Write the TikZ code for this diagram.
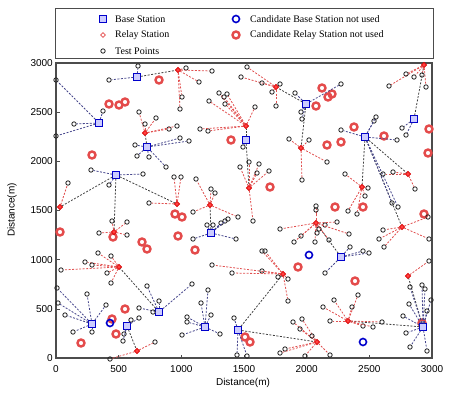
\documentclass[tikz,border=0pt]{standalone}
\usepackage{fontspec}
\setmainfont{Liberation Serif}
\setsansfont{Liberation Sans}
\usetikzlibrary{shapes.geometric}
\definecolor{bslink}{RGB}{70,70,140}
\definecolor{rslink}{RGB}{225,80,80}
\definecolor{candred}{RGB}{228,75,75}
\newcommand{\tpoints}[3]{%
  \foreach \x/\y [count=\i] in {#3} {\node[tp] (#2t\i) at (\x,\y) {}; \draw[#1] (#2) -- (#2t\i);}}
\begin{document}
\begin{tikzpicture}[x=1pt,y=-1pt,
  every node/.style={inner sep=0pt},
  tp/.style={circle,draw=black!85,line width=0.8pt,minimum size=4.4pt},
  bs/.style={rectangle,draw=blue!80!black,fill=blue!20,line width=1pt,minimum size=6.5pt},
  rs/.style={diamond,draw=red!85!black,fill=red!75,line width=0.6pt,minimum size=5.5pt},
  cbs/.style={circle,draw=blue!80!black,line width=1.6pt,minimum size=7pt},
  crs/.style={circle,draw=candred,line width=2.4pt,minimum size=7pt},
  lb/.style={bslink,line width=0.8pt,dash pattern=on 2pt off 1.5pt},
  lr/.style={rslink,line width=0.8pt,dash pattern=on 2pt off 1.5pt},
  lk/.style={black!75,line width=0.8pt,dash pattern=on 2pt off 1.5pt},
  lbl/.style={font=\sffamily\fontsize{10}{12}\selectfont},
  leg/.style={font=\fontsize{10}{12}\selectfont,anchor=west}]
\useasboundingbox (0,0) rectangle (474,393);
\draw[black!70,line width=1pt] (55,9) rectangle (433,59);
\draw[black!70,line width=1.2pt] (56,63) rectangle (432,358);
\foreach \v in {0,500,...,3000} {
  \draw[black!70,line width=0.6pt] ({56+\v*0.12533},358) -- ++(0,-3.5);
  \draw[black!70,line width=0.6pt] (56,{358-\v*0.09833}) -- ++(3.5,0);
  \node[lbl] (x\v) at ({56+\v*0.12533},369) {\v};
  \node[lbl,anchor=east] (y\v) at (53,{358-\v*0.09833}) {\v};
}
\node[lbl] (xl) at (243,383) {Distance(m)};
\node[lbl,rotate=90] (yl) at (12,210) {Distance(m)};
\node[bs] (lg1) at (103,19) {}; \node[leg] (lt1) at (115,19) {Base Station};
\node[rs,fill=none,draw=candred,minimum size=5pt] (lg2) at (103,35) {}; \node[leg] (lt2) at (115,35) {Relay Station};
\node[tp] (lg3) at (103,51) {}; \node[leg] (lt3) at (115,51) {Test Points};
\node[cbs] (lg4) at (236,19) {}; \node[leg] (lt4) at (250,19) {Candidate Base Station not used};
\node[crs] (lg5) at (236,35) {}; \node[leg] (lt5) at (250,35) {Candidate Relay Station not used};
\foreach \x/\y in {159/80,109/104,119/105,125/102,92/155,231/140,175/214,182/217,178/236,113/237,60/232,142/242,147/249,195/250,125/309,112/319,116/334,81/343,322/88,328/97,332/94,316/106,354/127,384/136,327/145,341/142,429/129,428/153,270/187,335/207,363/207,424/214,298/267,355/281,245/337,250/342,422/323}
  \node[crs] at (\x,\y) {};
\foreach \x/\y in {110/323,309/255,363/342}
  \node[cbs] at (\x,\y) {};
\foreach \n/\x/\y in {b1/137/77,b2/99/123,b3/147/147,b4/116/175,b5/159/312,b6/92/324,b7/127/326,b8/205/327,b9/211/233,b10/306/104,b11/246/140,b12/414/119,b13/365/137,b14/341/257,b15/238/330,b16/423/327}
  \node[bs] (\n) at (\x,\y) {};
\foreach \n/\x/\y in {r1/178/70,r2/145/133,r3/60/207,r4/177/204,r5/114/232,r6/119/267,r7/137/351,r8/210/205,r9/276/87,r10/246/126,r11/424/65,r12/301/148,r13/249/188,r14/362/187,r15/408/174,r16/402/227,r17/316/223,r18/283/274,r19/348/321,r20/317/342,r21/408/276}
  \node[rs] (\n) at (\x,\y) {};
\foreach \a/\b in {b1/r1,b3/r2,b4/r3,b4/r4,b4/r5,b5/r6,b7/r7,b9/r8,b10/r9,b11/r10,b12/r11,b10/r12,b11/r13,b13/r14,b13/r15,b13/r16,b14/r17,b15/r18,b16/r19,b15/r20,b16/r21}
  \draw[lk] (\a) -- (\b);
\tpoints{lb}{b1}{138/66,109/80}
\tpoints{lb}{b2}{56/80,103/111,74/124,56/136}
\tpoints{lb}{b3}{180/138,189/141,166/167,137/156,149/157,135/145}
\tpoints{lb}{b4}{91/170,109/185,143/174}
\tpoints{lb}{b5}{147/286,159/301,139/308,153/312,192/284}
\tpoints{lb}{b6}{87/294,57/288,58/303,65/315,73/332,92/332,106/305}
\tpoints{lb}{b7}{131/320,139/318,124/334,123/341}
\tpoints{lb}{b8}{187/317,187/322,201/303,208/290,211/315,182/335,220/334}
\tpoints{lb}{b9}{193/239,207/225,213/225,221/223,225/221,228/219,236/239}
\tpoints{lb}{b10}{295/93,341/84,301/112,302/119}
\tpoints{lb}{b11}{243/147}
\tpoints{lb}{b12}{402/128,406/135}
\tpoints{lb}{b13}{374/121,376/117,341/130,397/140,392/203,398/207}
\tpoints{lb}{b14}{363/251,369/253,325/273,350/247}
\tpoints{lb}{b15}{234/318,237/355,247/356}
\tpoints{lb}{b16}{410/287,422/285,425/289,431/300,409/304,427/311,403/316,406/333,410/347,427/351}
\tpoints{lr}{r1}{186/68,212/71,199/82,182/97,180/109}
\tpoints{lr}{r2}{139/112,145/124,156/118,169/129,177/126}
\tpoints{lr}{r3}{68/183}
\tpoints{lr}{r4}{174/177,181/177,149/203}
\tpoints{lr}{r5}{99/233,127/235,127/222,112/221}
\tpoints{lr}{r6}{61/270,85/262,92/265,98/253,111/256,107/273,111/283}
\tpoints{lr}{r7}{155/342,110/359}
\tpoints{lr}{r8}{196/179,211/189,215/193,193/212,238/217}
\tpoints{lr}{r9}{247/67,241/77,262/83,280/84,272/92,276/106}
\tpoints{lr}{r10}{219/93,227/94,224/97,209/101,225/104,255/107,208/131,200/129}
\tpoints{lr}{r11}{389/86,406/74,414/77,422/75,426/87}
\tpoints{lr}{r12}{289/139,309/140,327/162,302/180}
\tpoints{lr}{r13}{240/167,249/162,259/164,257/173,269/171,253/221}
\tpoints{lr}{r14}{368/188,365/196,345/174,348/211,357/214}
\tpoints{lr}{r15}{383/174,393/172,415/189}
\tpoints{lr}{r16}{383/230,379/239,384/247,429/239,428/217}
\tpoints{lr}{r17}{280/229,294/242,301/236,315/242,317/233,319/229,325/225,337/222,329/240,349/234,316/206,316/210}
\tpoints{lr}{r18}{262/251,265/251,262/271,232/273,212/265,278/277,288/279,288/301}
\tpoints{lr}{r19}{334/300,358/295,352/307,323/307,330/321,363/326,373/327,382/322}
\tpoints{lr}{r20}{293/322,302/319,300/329,312/336,285/349,280/353,305/356,330/355}
\tpoints{lr}{r21}{429/261}
\end{tikzpicture}
\end{document}
